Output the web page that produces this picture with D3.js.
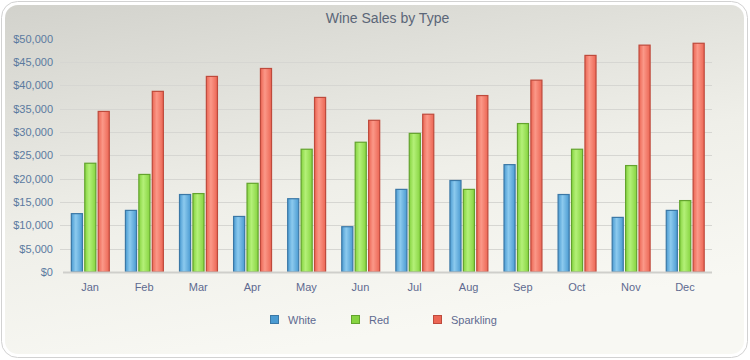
<!DOCTYPE html>
<html><head><meta charset="utf-8">
<script src="https://cdn.jsdelivr.net/npm/d3@7"></script>
<style>html,body{margin:0;padding:0;background:#fff;}svg{display:block;}</style>
</head><body>
<svg id="chart" width="750" height="360"></svg>
<script>
const months = ["Jan","Feb","Mar","Apr","May","Jun","Jul","Aug","Sep","Oct","Nov","Dec"];
const seriesNames = ["White","Red","Sparkling"];
const white = [12500, 13200, 16600, 11900, 15700, 9700, 17700, 19600, 23000, 16600, 11700, 13200];
const red = [23300, 20900, 16800, 19000, 26300, 27800, 29700, 17700, 31800, 26300, 22800, 15300];
const sparkling = [34400, 38700, 41900, 43600, 37400, 32500, 33800, 37800, 41100, 46400, 48600, 49000];
const yTicks = [0,5000,10000,15000,20000,25000,30000,35000,40000,45000,50000];
const title = "Wine Sales by Type";

const values = [white, red, sparkling];
const colors = [
  {light:"#8ccaee", dark:"#4b9bd2", stroke:"#3b78a6"},
  {light:"#b4f078", dark:"#86d440", stroke:"#63a32e"},
  {light:"#fb9888", dark:"#ec6654", stroke:"#be4a3c"}
];
const fontFam = "Liberation Sans, Arial, sans-serif";

const svg = d3.select("#chart");
const defs = svg.append("defs");
const bg = defs.append("linearGradient").attr("id","bg").attr("x1","0").attr("y1","0").attr("x2","0.35").attr("y2","1");
bg.append("stop").attr("offset","0").attr("stop-color","#d2d2cc");
bg.append("stop").attr("offset","0.6").attr("stop-color","#efefe9");
bg.append("stop").attr("offset","1").attr("stop-color","#f8f8f3");
colors.forEach((c,i)=>{
  const g = defs.append("linearGradient").attr("id","bar"+i).attr("x1","0").attr("y1","0").attr("x2","1").attr("y2","0");
  g.append("stop").attr("offset","0").attr("stop-color",c.dark);
  g.append("stop").attr("offset","0.4").attr("stop-color",c.light);
  g.append("stop").attr("offset","1").attr("stop-color",c.dark);
});

svg.append("rect").attr("x",1.5).attr("y",1.5).attr("width",746).attr("height",356).attr("rx",16)
  .attr("fill","#ffffff").attr("stroke","#d2d2d2");
svg.append("rect").attr("x",5).attr("y",5).attr("width",739).attr("height",349).attr("rx",13)
  .attr("fill","url(#bg)");

const plotLeft = 63, plotRight = 712, plotTop = 38.6, plotBottom = 272;

svg.append("text").attr("x",(plotLeft+plotRight)/2).attr("y",22.5).attr("text-anchor","middle")
  .attr("font-family",fontFam).attr("font-size",14)
  .attr("fill","#5b6678").text(title);

const y = d3.scaleLinear().domain([0,50000]).range([plotBottom, plotTop]);
const x0 = d3.scaleBand().domain(months).range([plotLeft, plotRight]).padding(0);
const gw = x0.bandwidth();
const x1 = d3.scaleBand().domain(seriesNames).range([gw*0.145, gw*0.865]).paddingInner(0.1);

// gridlines
svg.append("g").selectAll("line").data(yTicks.filter(t=>t>0 && t<50000)).join("line")
  .attr("x1",plotLeft-3).attr("x2",plotRight).attr("y1",d=>Math.round(y(d))+0.5).attr("y2",d=>Math.round(y(d))+0.5)
  .attr("stroke","#d6d6d2").attr("stroke-width",1);

// y axis
const yAxis = d3.axisLeft(y).tickValues(yTicks).tickSize(0).tickPadding(0)
  .tickFormat(d=>"$"+d3.format(",")(d));
const ya = svg.append("g").attr("transform",`translate(53,0)`).call(yAxis);
ya.select(".domain").remove();
ya.selectAll("text").attr("font-family",fontFam).attr("font-size",11).attr("fill","#5b7aa0");

// bars
const groups = svg.append("g").selectAll("g").data(months).join("g")
  .attr("transform",d=>`translate(${x0(d)},0)`);
groups.selectAll("rect").data((m,i)=>seriesNames.map((s,j)=>({s, j, v: values[j][i]}))).join("rect")
  .attr("x",d=>x1(d.s)+0.5).attr("width",x1.bandwidth()-1)
  .attr("y",d=>y(d.v)).attr("height",d=>plotBottom-y(d.v))
  .attr("fill",d=>`url(#bar${d.j})`).attr("stroke",d=>colors[d.j].stroke).attr("stroke-width",1.2);

// zero line
svg.append("line").attr("x1",plotLeft).attr("x2",plotRight).attr("y1",plotBottom+0.5).attr("y2",plotBottom+0.5)
  .attr("stroke","#cfcfcb").attr("stroke-width",2);

// x axis
const xAxis = d3.axisBottom(x0).tickSize(0).tickPadding(0);
const xa = svg.append("g").attr("transform",`translate(0,${plotBottom+11})`).call(xAxis);
xa.select(".domain").remove();
xa.selectAll("text").attr("font-family",fontFam).attr("font-size",11).attr("fill","#5e6a90");

// legend
const legX = [270, 351, 433];
const leg = svg.append("g").selectAll("g").data(seriesNames).join("g")
  .attr("transform",(d,i)=>`translate(${legX[i]},315)`);
leg.append("rect").attr("x",0.5).attr("y",0.5).attr("width",8).attr("height",8)
  .attr("fill",(d,i)=>colors[i].dark).attr("stroke",(d,i)=>colors[i].stroke);
leg.append("text").attr("x",18).attr("y",9).attr("font-family",fontFam)
  .attr("font-size",11).attr("fill","#5e6a90").text(d=>d);
</script>
</body></html>
